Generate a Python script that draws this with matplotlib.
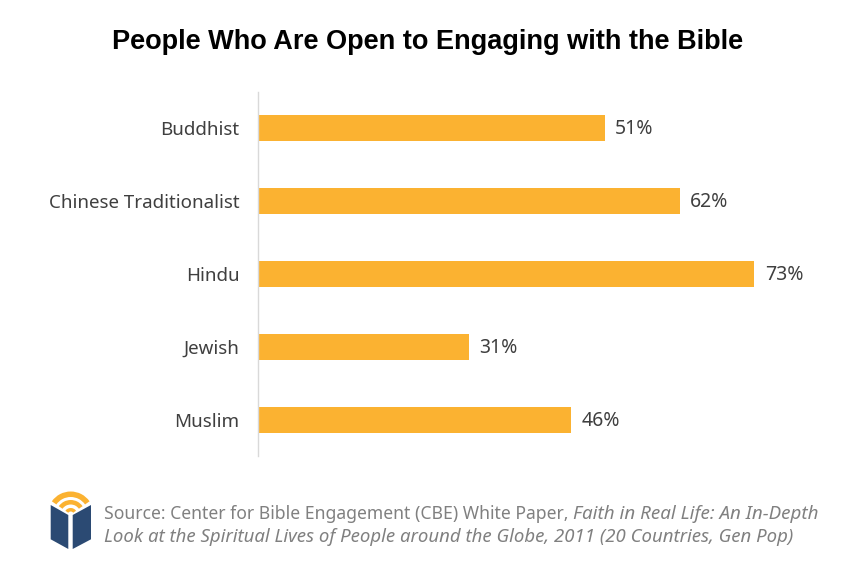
#!/usr/bin/env python3
"""Horizontal bar chart: openness to engaging with the Bible, by religion."""
import matplotlib
matplotlib.use("Agg")
import matplotlib.pyplot as plt
from matplotlib.patches import Polygon, Wedge

W, H = 856, 575
INK = "#3f3f3f"
GOLD = "#fbb231"
NAVY = "#2b4a73"
SOURCE = "#808080"

categories = ["Buddhist", "Chinese Traditionalist", "Hindu", "Jewish", "Muslim"]
values = [51, 62, 73, 31, 46]
title = "People Who Are Open to Engaging with the Bible"
source_1 = "Source: Center for Bible Engagement (CBE) White Paper, "
source_1_it = "Faith in Real Life: An In-Depth"
source_2_it = "Look at the Spiritual Lives of People around the Globe, 2011 (20 Countries, Gen Pop)"

plt.rcParams["font.family"] = ["Noto Sans", "DejaVu Sans"]


def add_logo(fig):
    # Overlay in pixel coordinates, y pointing down
    ax = fig.add_axes([0, 0, 1, 1], facecolor="none")
    ax.set_xlim(0, W)
    ax.set_ylim(H, 0)
    ax.axis("off")
    ax.add_patch(Polygon([(50.7, 505), (68.3, 515), (68.3, 549), (50.7, 539.3)],
                         facecolor=NAVY, edgecolor="none"))
    ax.add_patch(Polygon([(72.7, 515), (91, 505), (91, 539.3), (72.7, 549)],
                         facecolor=NAVY, edgecolor="none"))
    # Wedge angles are mirrored because the y axis is inverted
    for r, w in [(23, 5.5), (14.5, 4.5), (6.5, 3.5)]:
        ax.add_patch(Wedge((70.7, 514.5), r, 215, 325, width=w,
                           facecolor=GOLD, edgecolor="none"))
    return ax


def main():
    fig = plt.figure(figsize=(W / 100, H / 100), dpi=100)
    fig.patch.set_facecolor("white")

    ax = fig.add_axes([258 / W, 1 - 456 / H, 560 / W, 364 / H])
    ypos = range(len(categories))
    ax.barh(ypos, values, height=0.357, color=GOLD, edgecolor="none", zorder=2)
    ax.set_xlim(0, 560 / 6.8)
    ax.set_ylim(4.5, -0.5)
    ax.set_yticks(list(ypos), categories, fontsize=13.5, color=INK)
    ax.set_xticks([])
    ax.tick_params(axis="y", length=0, pad=13.5)
    for side in ["top", "right", "bottom"]:
        ax.spines[side].set_visible(False)
    ax.spines["left"].set_color("#d9d9d9")
    ax.spines["left"].set_linewidth(1.0)

    for y, v in zip(ypos, values):
        ax.annotate(f"{v}%", (v, y), xytext=(7.5, -0.7), textcoords="offset points",
                    ha="left", va="center", fontsize=14, color=INK)

    fig.text(427.5 / W, 1 - 42 / H, title, ha="center", va="center",
             fontsize=19.5, fontweight="bold", color="black",
             family=["Liberation Sans", "DejaVu Sans"])

    logo_ax = add_logo(fig)
    t1 = logo_ax.text(104, 514, source_1, ha="left", va="center", fontsize=12.65, color=SOURCE)
    logo_ax.annotate(source_1_it, xycoords=t1, xy=(1, 0.5), ha="left", va="center",
                     fontsize=13.5, style="italic", color=SOURCE)
    logo_ax.text(104, 537, source_2_it, ha="left", va="center", fontsize=13.38,
                 style="italic", color=SOURCE)

    fig.savefig("out.png", dpi=100)


if __name__ == "__main__":
    main()
